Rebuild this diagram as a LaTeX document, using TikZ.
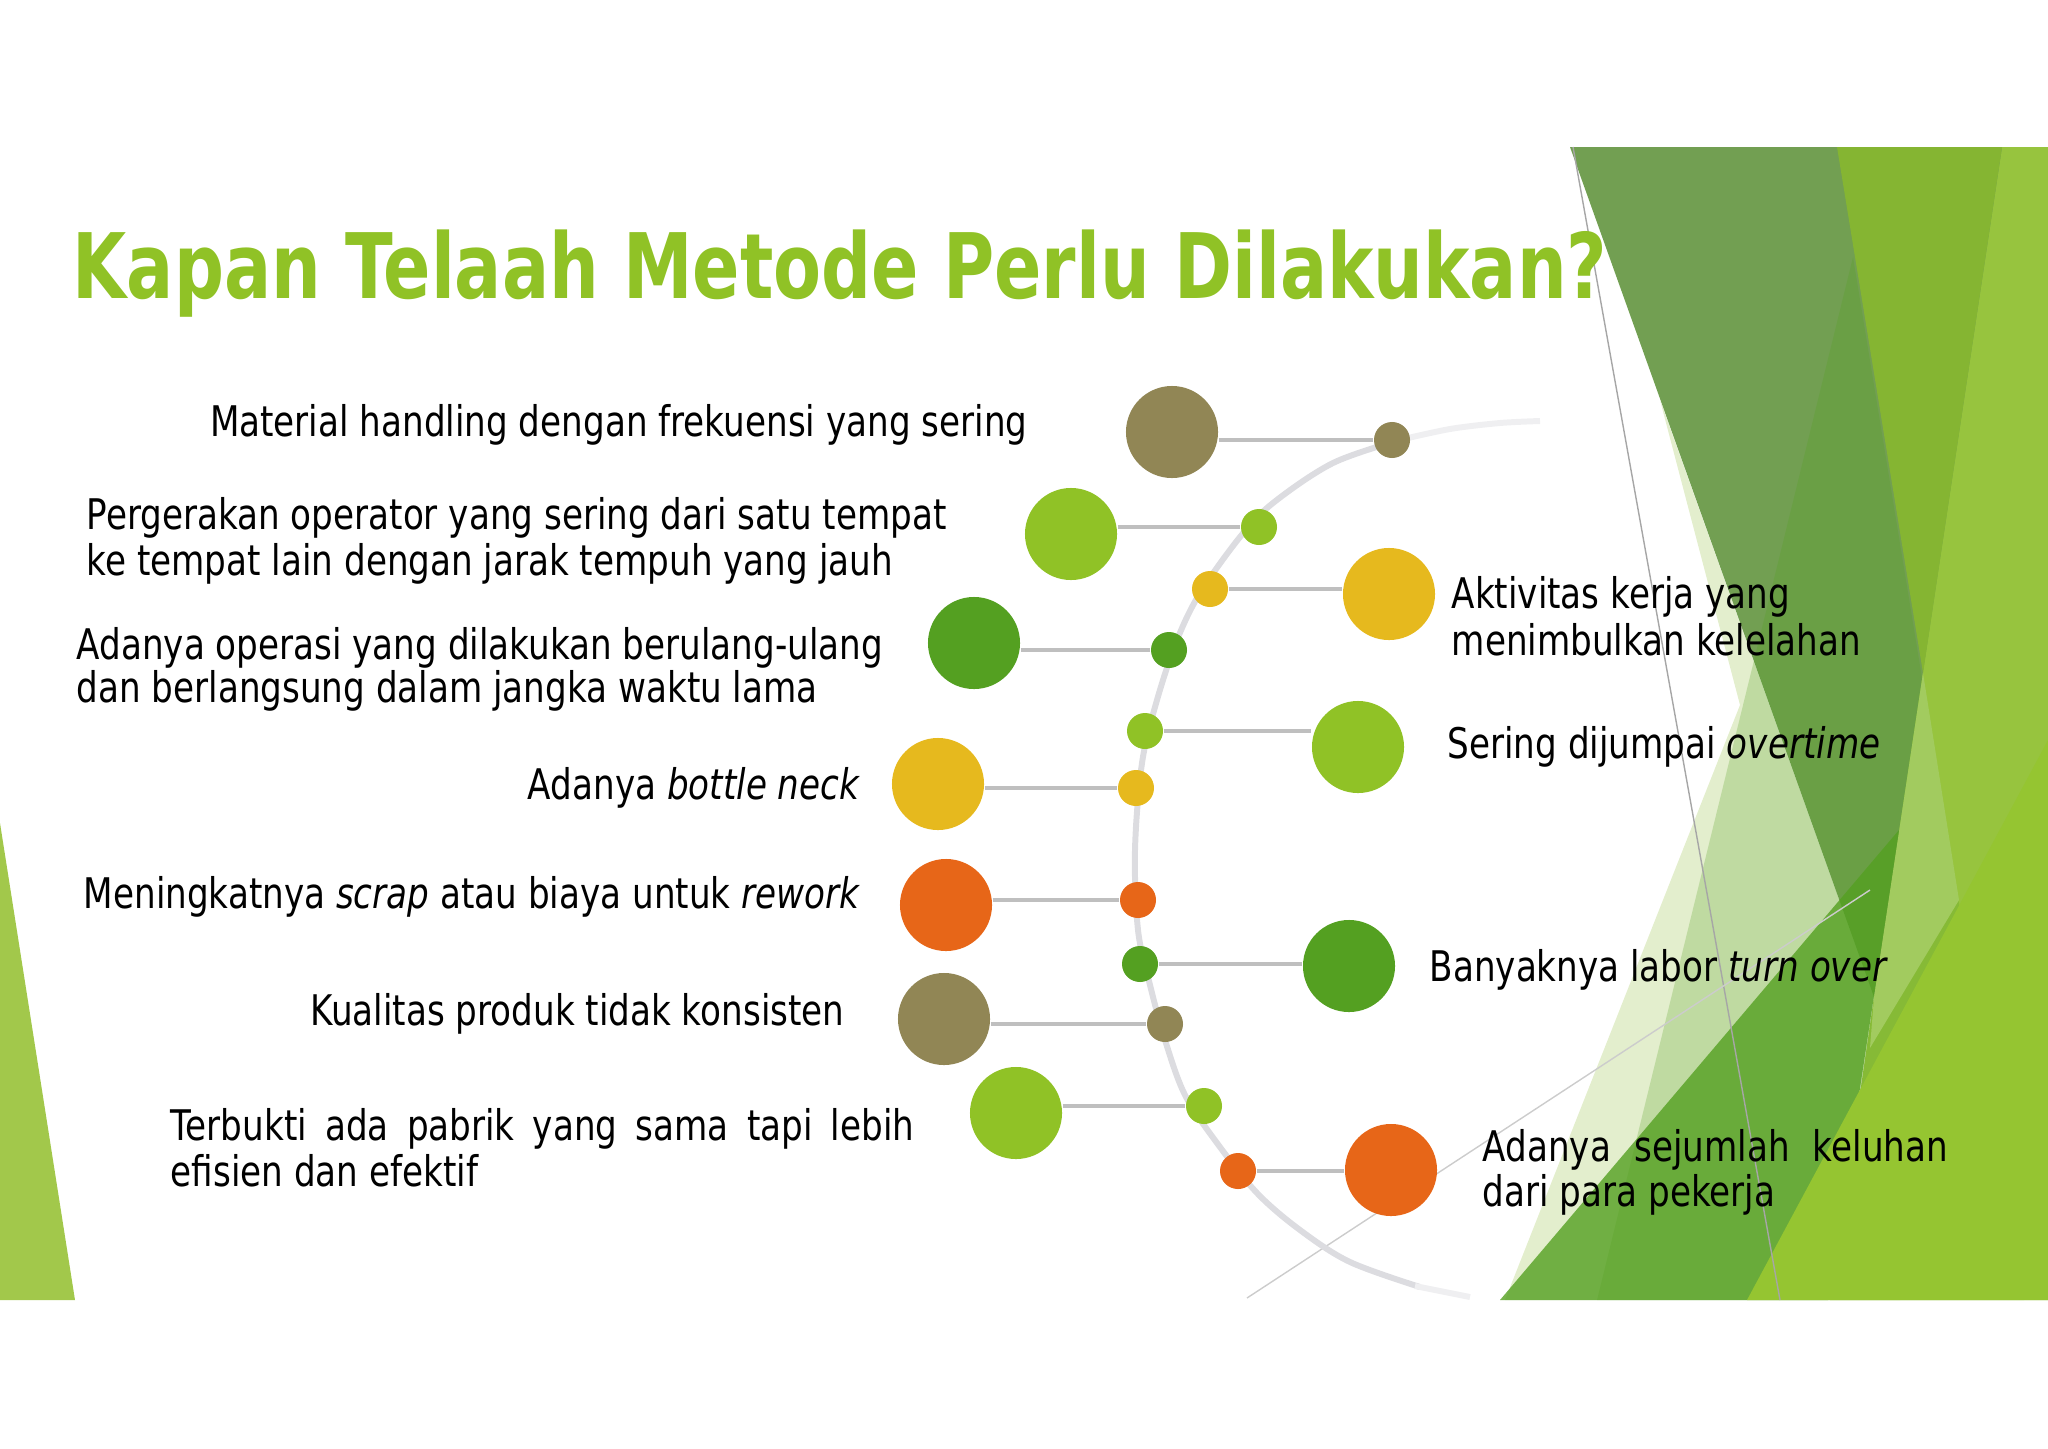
\documentclass[tikz,border=0pt]{standalone}
\usepackage{fontspec}
\setmainfont{DejaVu Sans}[FakeStretch=0.81]
\newfontfamily\headfont[FakeStretch=0.773]{DejaVu Sans}
\usetikzlibrary{positioning}

\definecolor{leaf}{HTML}{90C226}
\definecolor{moss}{HTML}{54A021}
\definecolor{sun}{HTML}{E6B91E}
\definecolor{rust}{HTML}{E76618}
\definecolor{khaki}{HTML}{918655}
\definecolor{wire}{HTML}{BFBFBF}
\definecolor{track}{HTML}{DCDCE0}
\definecolor{slab}{HTML}{A2C84B}
\definecolor{paleleaf}{HTML}{E3EECD}
\definecolor{greyleaf}{HTML}{729F52}
\definecolor{midleaf}{HTML}{85B532}
\definecolor{lightleaf}{HTML}{97C43E}
\definecolor{paleband}{HTML}{A2CB5F}

\begin{document}
\begin{tikzpicture}[x=0.01cm,y=-0.01cm,
  bigball/.style={circle,inner sep=0pt,minimum size=0.92cm,fill=#1},
  smallball/.style={circle,inner sep=0pt,minimum size=0.36cm,fill=#1},
  linkline/.style={draw=wire,line width=0.9pt},
  itemtext/.style={inner sep=0pt,align=left,font=\fontsize{12}{13}\selectfont}]

\useasboundingbox (0,0) rectangle (2048,1448);

% facets of the slide
\fill[slab] (0,823) -- (75,1300) -- (0,1300) -- cycle;
\fill[paleleaf] (1660,400) -- (1740,705) -- (1505,1300) -- (1900,1300)
   -- (1874,997) -- cycle;
\fill[lightleaf] (1990,147) -- (2048,147) -- (2048,1300) -- (1830,1300)
   -- (1874,997) -- cycle;
\fill[greyleaf] (1570,147) -- (2002,147) -- (1874,997) -- cycle;
\fill[moss,opacity=0.25] (1853,257) -- (1597,1300) -- (2024,1300) -- cycle;
\fill[midleaf] (1837,147) -- (2002,147) -- (1923,673) -- cycle;
\fill[paleband] (1923,673) -- (1959,900) -- (1870,1048) -- (1874,997) -- cycle;
\fill[moss,opacity=0.8] (1500,1300) -- (1899,830) -- (1828,1300) -- cycle;
\fill[leaf!95!white] (2048,740) -- (2048,1300) -- (1747,1300) -- cycle;

\draw[gray!70,line width=0.4pt] (1573,147) -- (1780,1300);
\draw[gray!40,line width=0.4pt] (1247,1298) -- (1870,890);

% the arc
\draw[track!45,line width=1.7pt] plot[smooth] coordinates
   {(1395,441) (1450,429) (1500,423) (1540,421)};
\draw[track,line width=1.7pt] plot[smooth,tension=0.55] coordinates
   {(1400,440) (1333,463) (1273,503) (1240,537) (1200,593) (1177,640) (1157,700)
    (1142,763) (1135,850) (1138,930) (1150,985) (1165,1040) (1185,1095)
    (1217,1143) (1257,1193) (1300,1230) (1350,1262) (1420,1287)};
\draw[track!45,line width=1.7pt] plot[smooth] coordinates
   {(1415,1286) (1470,1297)};

\node[bigball=khaki] (bigHandling) at (1172,432) {};
\node[bigball=leaf] (bigMovement) at (1071,534) {};
\node[bigball=moss] (bigRepeat) at (974,643) {};
\node[bigball=sun] (bigBottleneck) at (938,784) {};
\node[bigball=rust] (bigScrap) at (946,905) {};
\node[bigball=khaki] (bigQuality) at (944,1019) {};
\node[bigball=leaf] (bigFactory) at (1016,1113) {};
\node[bigball=sun] (bigFatigue) at (1389,594) {};
\node[bigball=leaf] (bigOvertime) at (1358,747) {};
\node[bigball=moss] (bigTurnover) at (1349,966) {};
\node[bigball=rust] (bigComplaint) at (1391,1170) {};

\node[smallball=khaki] (dotHandling) at (1392,440) {};
\node[smallball=leaf] (dotMovement) at (1259,527) {};
\node[smallball=sun] (dotFatigue) at (1210,589) {};
\node[smallball=moss] (dotRepeat) at (1169,650) {};
\node[smallball=leaf] (dotOvertime) at (1145,731) {};
\node[smallball=sun] (dotBottleneck) at (1136,788) {};
\node[smallball=rust] (dotScrap) at (1138,900) {};
\node[smallball=moss] (dotTurnover) at (1140,964) {};
\node[smallball=khaki] (dotQuality) at (1165,1024) {};
\node[smallball=leaf] (dotFactory) at (1204,1106) {};
\node[smallball=rust] (dotComplaint) at (1238,1171) {};

\draw[linkline] (bigHandling.east |- dotHandling) -- (dotHandling.west);
\draw[linkline] (bigMovement.east |- dotMovement) -- (dotMovement.west);
\draw[linkline] (dotFatigue.east) -- (dotFatigue -| bigFatigue.west);
\draw[linkline] (bigRepeat.east |- dotRepeat) -- (dotRepeat.west);
\draw[linkline] (dotOvertime.east) -- (dotOvertime -| bigOvertime.west);
\draw[linkline] (bigBottleneck.east |- dotBottleneck) -- (dotBottleneck.west);
\draw[linkline] (bigScrap.east |- dotScrap) -- (dotScrap.west);
\draw[linkline] (dotTurnover.east) -- (dotTurnover -| bigTurnover.west);
\draw[linkline] (bigQuality.east |- dotQuality) -- (dotQuality.west);
\draw[linkline] (bigFactory.east |- dotFactory) -- (dotFactory.west);
\draw[linkline] (dotComplaint.east) -- (dotComplaint -| bigComplaint.west);

% title and items
\node[inner sep=0pt,anchor=base west,text=leaf,
      font=\headfont\bfseries\fontsize{25.7}{30}\selectfont] (title) at (72,298)
   {Kapan Telaah Metode Perlu Dilakukan?};

\node[itemtext,anchor=base east] (txtHandling) at (1028,436)
   {Material handling dengan frekuensi yang sering};
\node[itemtext,anchor=base west] (txtMovement) at (86,575)
   {Pergerakan operator yang sering dari satu tempat\\
    ke tempat lain dengan jarak tempuh yang jauh};
\node[itemtext,anchor=base west,font=\fontsize{12}{12}\selectfont] (txtRepeat) at (76,702)
   {Adanya operasi yang dilakukan berulang-ulang\\
    dan berlangsung dalam jangka waktu lama};
\node[itemtext,anchor=base east] (txtBottleneck) at (861,799)
   {Adanya \textit{bottle neck}};
\node[itemtext,anchor=base east] (txtScrap) at (861,908)
   {Meningkatnya \textit{scrap} atau biaya untuk \textit{rework}};
\node[itemtext,anchor=base east] (txtQuality) at (845,1025)
   {Kualitas produk tidak konsisten};
\node[itemtext,anchor=base west] (txtFactory) at (170,1186)
   {\makebox[7.43cm][s]{Terbukti ada pabrik yang sama tapi lebih}\\
    efisien dan efektif};

\node[itemtext,anchor=base west,font=\fontsize{12}{13.3}\selectfont] (txtFatigue) at (1451,655)
   {Aktivitas kerja yang\\ menimbulkan kelelahan};
\node[itemtext,anchor=base west] (txtOvertime) at (1447,758)
   {Sering dijumpai \textit{overtime}};
\node[itemtext,anchor=base west] (txtTurnover) at (1429,981)
   {Banyaknya labor \textit{turn over}};
\node[itemtext,anchor=base west,font=\fontsize{12}{11.5}\selectfont] (txtComplaint) at (1482,1206)
   {\makebox[4.65cm][s]{Adanya sejumlah keluhan}\\ dari para pekerja};
\end{tikzpicture}
\end{document}
